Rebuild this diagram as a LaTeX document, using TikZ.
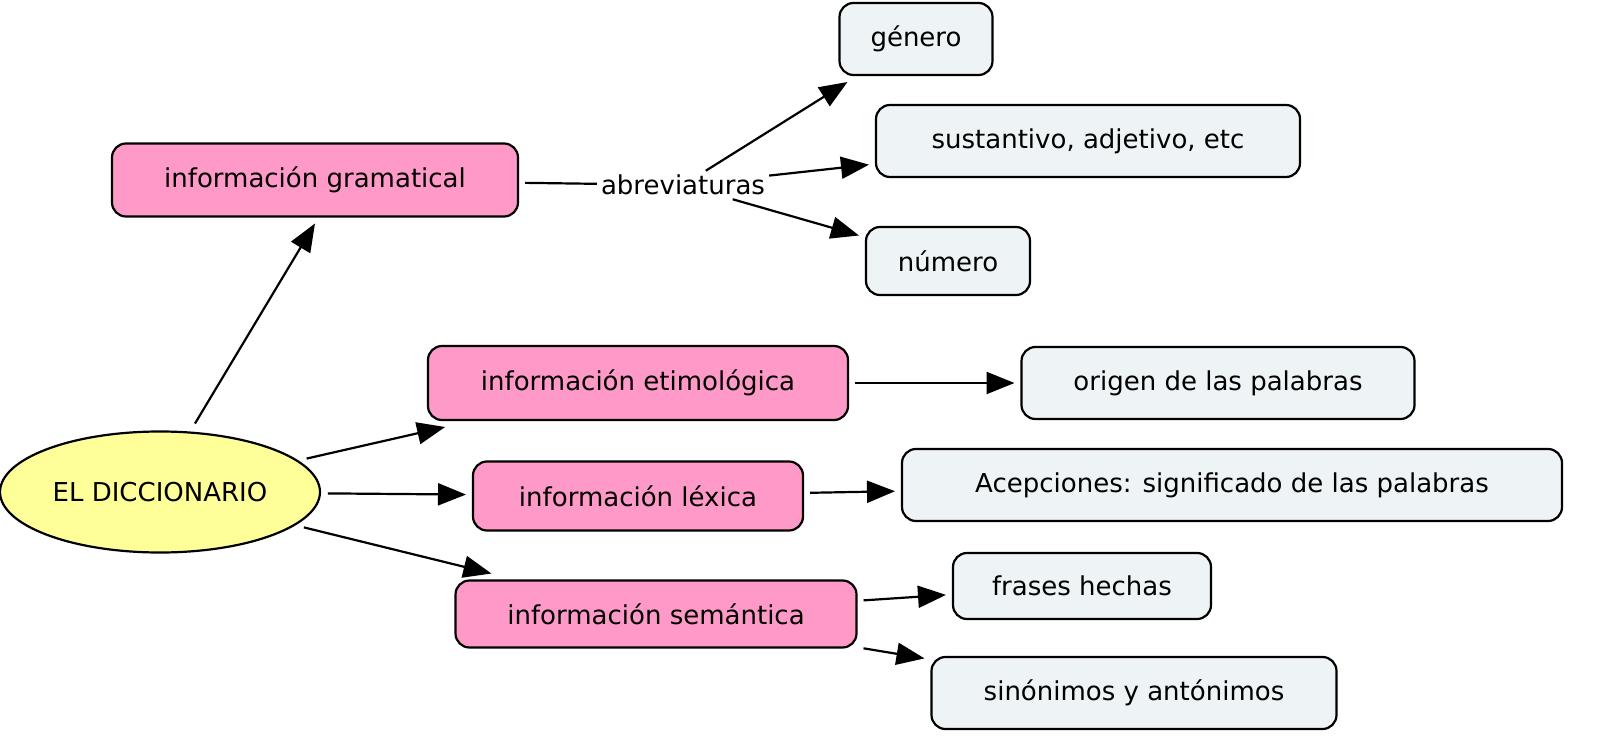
\documentclass[tikz,border=0pt]{standalone}
\usepackage{fontspec}
\setmainfont{DejaVu Sans}
\usetikzlibrary{arrows.meta,shapes.geometric}
\definecolor{pinkf}{HTML}{FF99C8}
\definecolor{grayf}{HTML}{EEF3F5}
\definecolor{yelf}{HTML}{FFFF99}
\tikzset{
 base/.style={draw=black,line width=2.2pt,rounded corners=14pt,font=\fontsize{26}{30}\selectfont,inner sep=0pt,outer sep=7pt},
 pinkbox/.style={base,fill=pinkf},
 graybox/.style={base,fill=grayf},
 arr/.style={line width=2.2pt,-{Triangle[length=28pt,width=22pt]}},
 ln/.style={line width=2.2pt}
}
\begin{document}
\begin{tikzpicture}[x=1pt,y=-1pt]
\useasboundingbox (0,0) rectangle (1600,751);
\node[graybox,minimum width=153pt,minimum height=72pt] (gen) at (916,39) {género};
\node[graybox,minimum width=424pt,minimum height=72pt] (sus) at (1088,141) {sustantivo, adjetivo, etc};
\node[graybox,minimum width=164pt,minimum height=68pt] (num) at (948,261) {número};
\node[pinkbox,minimum width=406pt,minimum height=73pt] (gra) at (315,180) {información gramatical};
\node[font=\fontsize{26}{30}\selectfont,inner sep=4pt] (abr) at (683,185) {abreviaturas};
\node[pinkbox,minimum width=420pt,minimum height=74pt] (eti) at (638,383) {información etimológica};
\node[graybox,minimum width=393pt,minimum height=72pt] (ori) at (1218,383) {origen de las palabras};
\node[draw=black,line width=2.2pt,fill=yelf,ellipse,minimum width=320pt,minimum height=121pt,inner sep=0pt,outer sep=8pt,font=\fontsize{26}{30}\selectfont] (dic) at (160,492) {EL DICCIONARIO};
\node[pinkbox,minimum width=330pt,minimum height=69pt] (lex) at (638,496) {información léxica};
\node[graybox,minimum width=660pt,minimum height=72pt] (ace) at (1232,485) {Acepciones: significado de las palabras};
\node[pinkbox,minimum width=401pt,minimum height=67pt] (sem) at (656,614) {información semántica};
\node[graybox,minimum width=258pt,minimum height=66pt] (fra) at (1082,586) {frases hechas};
\node[graybox,minimum width=405pt,minimum height=72pt] (sin) at (1134,693) {sinónimos y antónimos};
\draw[arr] (dic.north) ++(35,0) coordinate (d0) -- (gra.south);
\draw[arr] (dic) -- (eti);
\draw[arr] (dic) -- (lex);
\draw[arr] (dic) -- (sem);
\draw[ln] (gra) -- (abr);
\draw[arr] (abr) -- (gen);
\draw[arr] (abr) -- (sus);
\draw[arr] (abr) -- (num);
\draw[arr] (eti) -- (ori);
\draw[arr] (lex) -- (ace);
\draw[arr] (sem) -- (fra);
\draw[arr] (sem) -- (sin);
\end{tikzpicture}
\end{document}
